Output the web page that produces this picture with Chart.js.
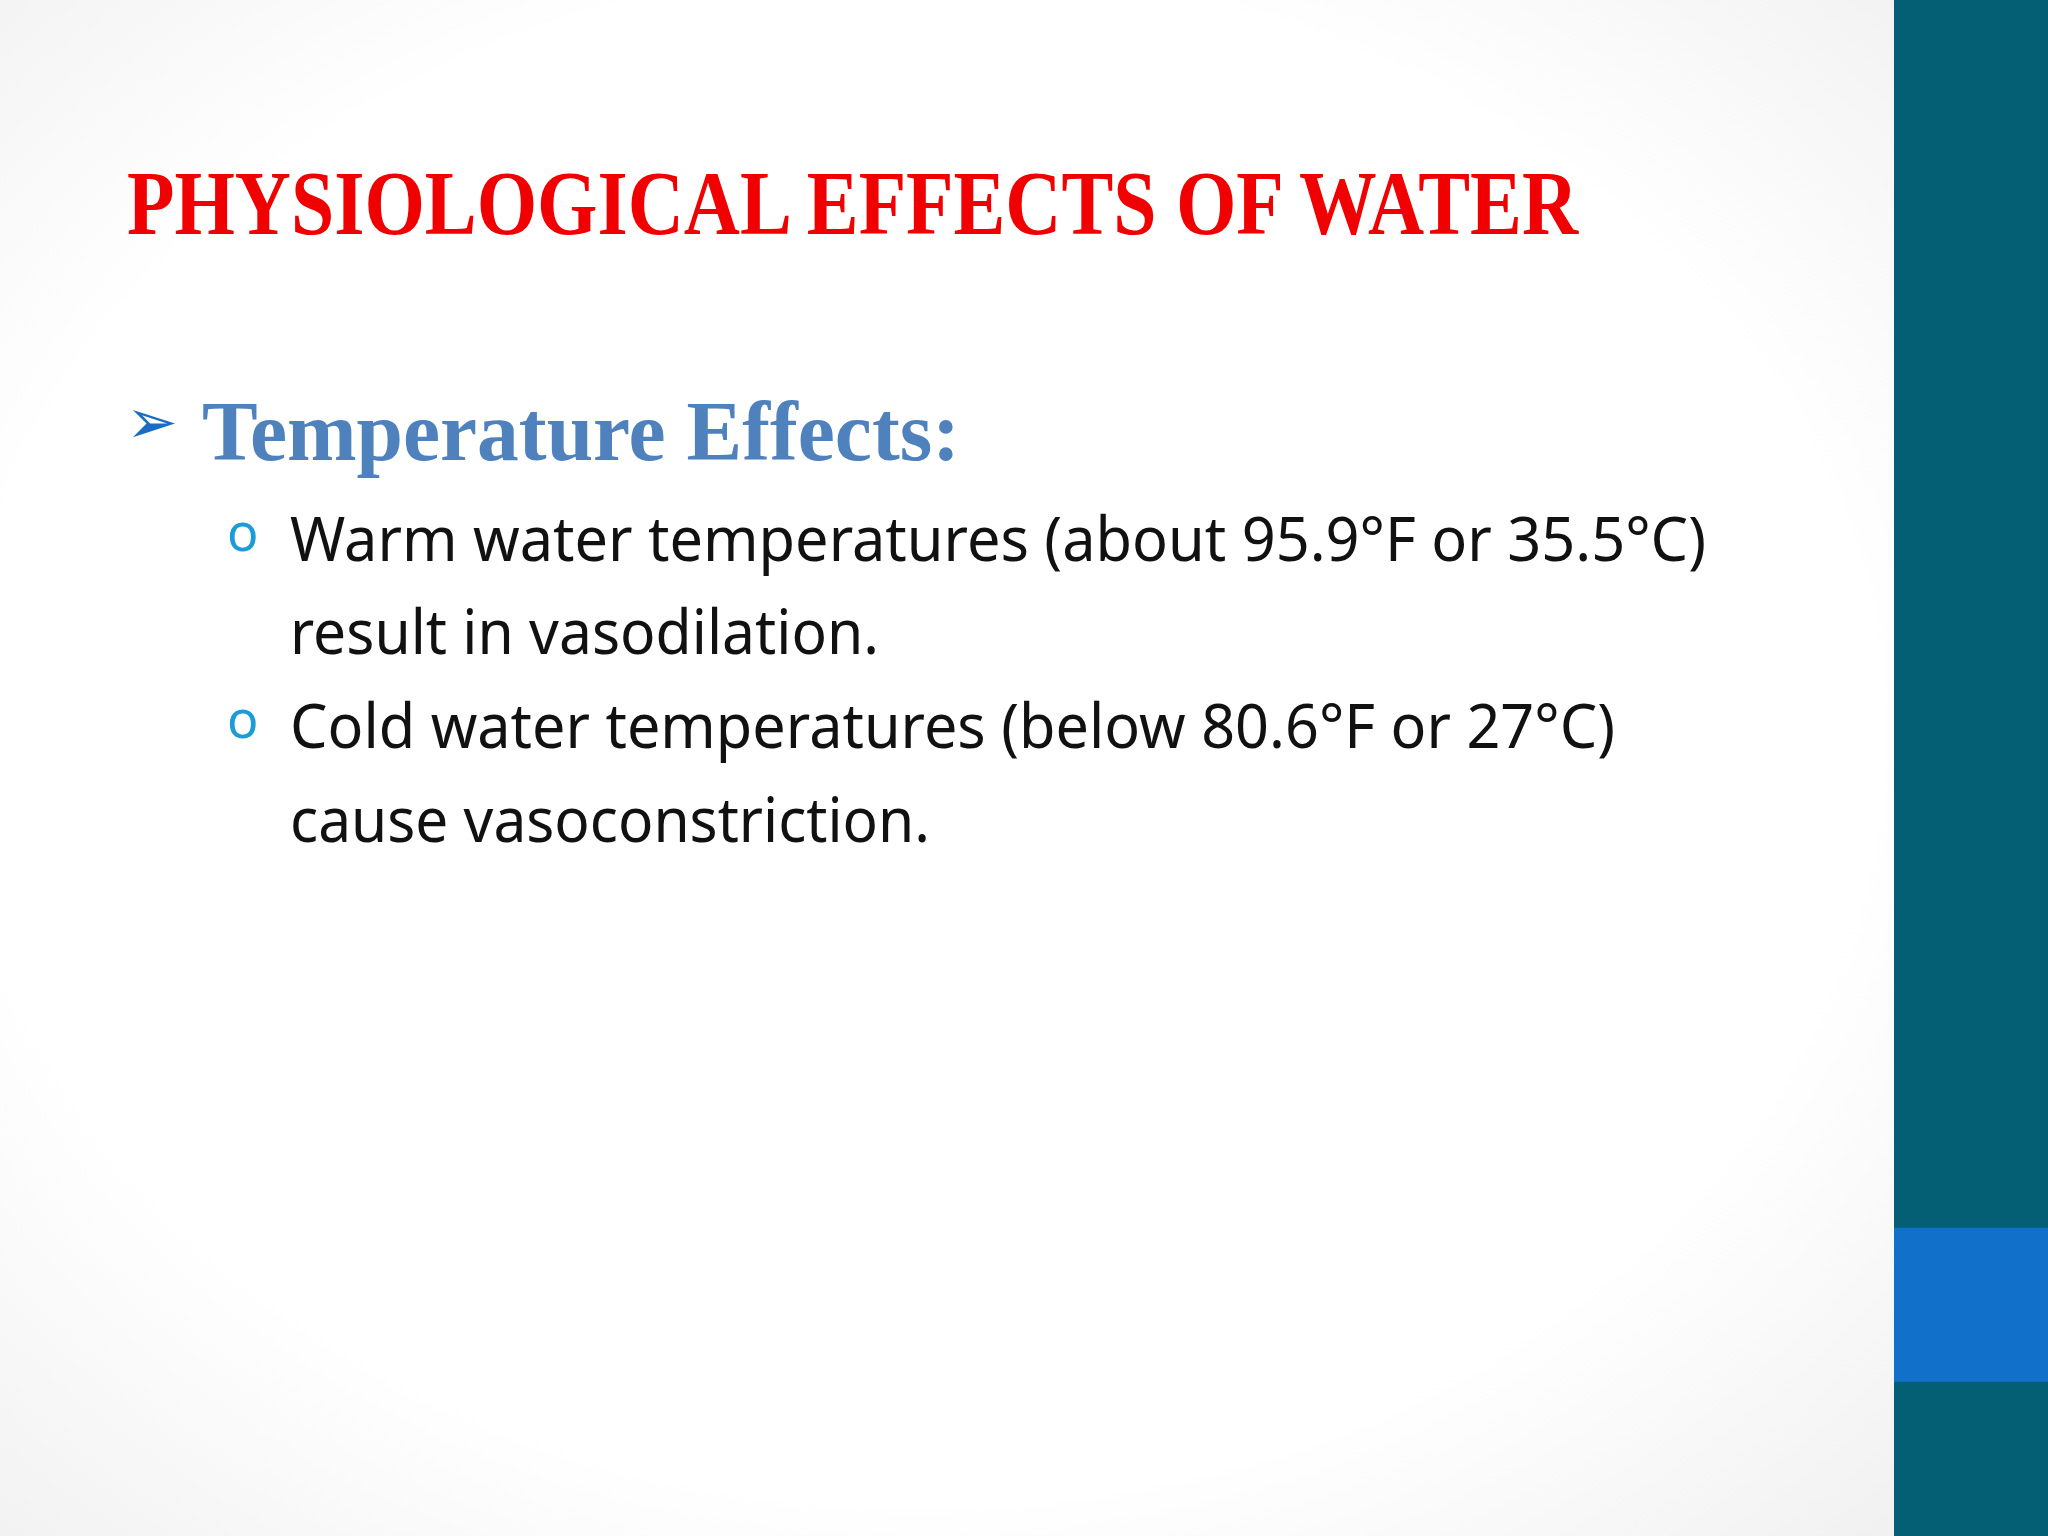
<!DOCTYPE html>
<html lang="en">
<head>
<meta charset="UTF-8">
<script src="https://cdn.jsdelivr.net/npm/chart.js@4.4.0/dist/chart.umd.min.js"></script>
<title>Physiological Effects of Water</title>
<style>
  html, body { margin:0; padding:0; }
  body { width:2048px; height:1536px; position:relative; overflow:hidden;
    background: radial-gradient(ellipse 75% 80% at 45% 48%, #ffffff 62%, #ececec 100%); }
  .t { position:absolute; white-space:nowrap; line-height:1; transform-origin:0 0; }
  #title { left:127px; top:150px; font:bold 92px "Liberation Serif"; color:#f00000; }
  #arrow { left:126px; top:385px; font:62px "DejaVu Sans"; color:#1a6cc4; }
  #head { left:202px; top:383px; font:bold 84px "Liberation Serif"; color:#4f81bd; }
  .dot { font:52px "Noto Sans"; color:#1b9bd7; left:227px; }
  .line { font:62px "Noto Sans"; color:#111; left:290px; }
  #side { position:absolute; left:1894px; top:0; width:154px; height:1536px; }
</style>
</head>
<body>
<div class="t" id="title" data-w="1451">PHYSIOLOGICAL EFFECTS OF WATER</div>
<div class="t" id="arrow">➢</div>
<div class="t" id="head" data-w="758">Temperature Effects:</div>
<div class="t dot" style="top:495px">o</div>
<div class="t line" style="top:495px" data-w="1416">Warm water temperatures (about 95.9°F or 35.5°C)</div>
<div class="t line" style="top:588px" data-w="589">result in vasodilation.</div>
<div class="t dot" style="top:682px">o</div>
<div class="t line" style="top:682px" data-w="1325">Cold water temperatures (below 80.6°F or 27°C)</div>
<div class="t line" style="top:776px" data-w="640">cause vasoconstriction.</div>
<div id="side"><canvas id="bars"></canvas></div>
<script>
// fit text lines to the reference widths
document.querySelectorAll('[data-w]').forEach(function (el) {
  var w = el.getBoundingClientRect().width;
  el.style.transform = 'scaleX(' + (el.dataset.w / w) + ')';
});

// side band: segment heights from bottom, in pixels of slide height
const bandLabels = ['band'];
const bottomTeal = [154];
const blueBlock = [154];
const topTeal = [1228];

new Chart(document.getElementById('bars'), {
  type: 'bar',
  data: {
    labels: bandLabels,
    datasets: [
      { data: bottomTeal, backgroundColor: '#045f74' },
      { data: blueBlock, backgroundColor: '#1170c9' },
      { data: topTeal, backgroundColor: '#045f74' }
    ]
  },
  options: {
    responsive: true, maintainAspectRatio: false, animation: false,
    layout: { padding: 0 },
    datasets: { bar: { barPercentage: 1, categoryPercentage: 1, borderWidth: 0 } },
    plugins: { legend: { display: false }, tooltip: { enabled: false } },
    scales: {
      x: { stacked: true, display: false },
      y: { stacked: true, display: false, min: 0, max: 1536 }
    }
  }
});
</script>
</body>
</html>
